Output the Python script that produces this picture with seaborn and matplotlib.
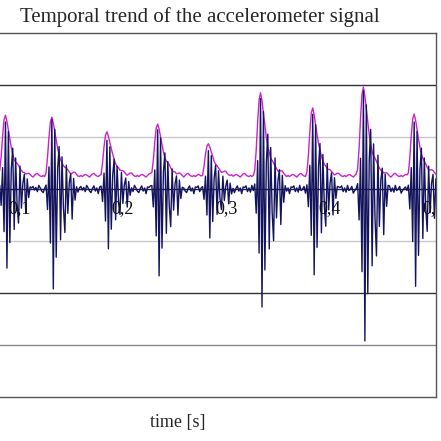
import numpy as np
import pandas as pd
import matplotlib
matplotlib.use("Agg")
import matplotlib.pyplot as plt
import seaborn as sns

# burst events
burst_times = [0.0865, 0.132, 0.185, 0.234, 0.283, 0.333, 0.383, 0.432, 0.482]
burst_pos = [1.30, 1.35, 0.95, 1.15, 0.75, 1.75, 1.45, 1.90, 1.30]
burst_neg = [-1.50, -1.90, -1.13, -1.65, -0.92, -2.25, -1.63, -2.90, -1.85]
env_peaks = [1.42, 1.38, 1.10, 1.25, 0.87, 1.85, 1.56, 1.96, 1.44]

# hand-drawn shapes of one burst (normalised) and of the baseline noise
osc_shape = [0.05, -0.2, 0.3, -0.55, 1.0, -1.0, 0.85, -0.7, 0.3, 0.6, -0.5,
             0.45, -0.2, -0.45, 0.35, -0.25, 0.1, 0.2, -0.3, 0.15, -0.12, 0.05]
env_shape = [0.05, 0.3, 0.65, 0.92, 1.0, 0.9, 0.75, 0.6, 0.46, 0.36, 0.28,
             0.22, 0.18, 0.14, 0.11, 0.09, 0.07, 0.05, 0.04, 0.03, 0.02, 0.01]
noise = [0.03, -0.05, 0.07, 0.02, -0.04, -0.07, 0.01, 0.06, -0.04, 0.02, -0.09, 0.04,
         0.03, 0.06, -0.05, 0.02, -0.06, 0.07, -0.03, 0.0, 0.05, -0.08, -0.03, 0.01,
         0.04, -0.03, 0.08, -0.05, 0.01, -0.06, 0.02, 0.05, -0.02]
env_ripple = [0.24, 0.26, 0.28, 0.27, 0.25, 0.23, 0.26, 0.29, 0.3, 0.27, 0.25, 0.24, 0.26]

dt = 0.0014
t = np.round(np.arange(0.070, 0.505, dt), 4)
sig = np.array([noise[i % len(noise)] for i in range(len(t))])
env = np.array([env_ripple[i % len(env_ripple)] for i in range(len(t))])
for bt, bp, bn, ep in zip(burst_times, burst_pos, burst_neg, env_peaks):
    k = int(round((bt - t[0]) / dt))
    for j, v in enumerate(osc_shape):
        idx = k - 4 + j
        if 0 <= idx < len(t):
            sig[idx] = v * (bp if v > 0 else -bn) + noise[j % len(noise)] * 0.3
    for j, v in enumerate(env_shape):
        idx = k - 4 + j
        if 0 <= idx < len(t):
            env[idx] = env[idx] + v * (ep - env[idx])

df = pd.DataFrame({"time": t, "signal": sig, "envelope": env})

sns.set_style("white")
plt.rcParams["font.family"] = ["Liberation Serif", "DejaVu Serif"]

fig = plt.figure(figsize=(4.41, 4.41), dpi=100)
ax = fig.add_axes([-3 / 441, 1 - 397 / 441, 439 / 441, 364 / 441])

for yv, col in [(2, "#333333"), (1, "#c8c8c8"), (-1, "#c8c8c8"), (-2, "#333333"), (-3, "#888888")]:
    ax.axhline(yv, color=col, lw=1, zorder=0)
ax.axhline(0, color="#222244", lw=1, zorder=1)

sns.lineplot(data=df, x="time", y="envelope", ax=ax, color="#cc22cc", lw=1.0, zorder=2)
sns.lineplot(data=df, x="time", y="signal", ax=ax, color="#14145e", lw=1.0, zorder=3)

ax.set_xlim(0.0786, 0.5027)
ax.set_ylim(-4, 3)
ax.set_yticks([])
ax.set_xticks([])
ax.set_xlabel("")
ax.set_ylabel("")
for s in ax.spines.values():
    s.set_color("#555555")
    s.set_linewidth(1)

for tv, lab in zip([0.1, 0.2, 0.3, 0.4, 0.5], ["0,1", "0,2", "0,3", "0,4", "0,5"]):
    ax.text(tv, -0.22, lab, ha="center", va="top", fontsize=13, color="#111111",
            zorder=5, clip_on=True)

fig.text(200 / 441, 1 - 17 / 441, "Temporal trend of the accelerometer signal",
         ha="center", va="center", fontsize=15)
fig.text(178 / 441, 1 - 422 / 441, "time [s]", ha="center", va="center", fontsize=13)

fig.savefig("out.png", dpi=100)
